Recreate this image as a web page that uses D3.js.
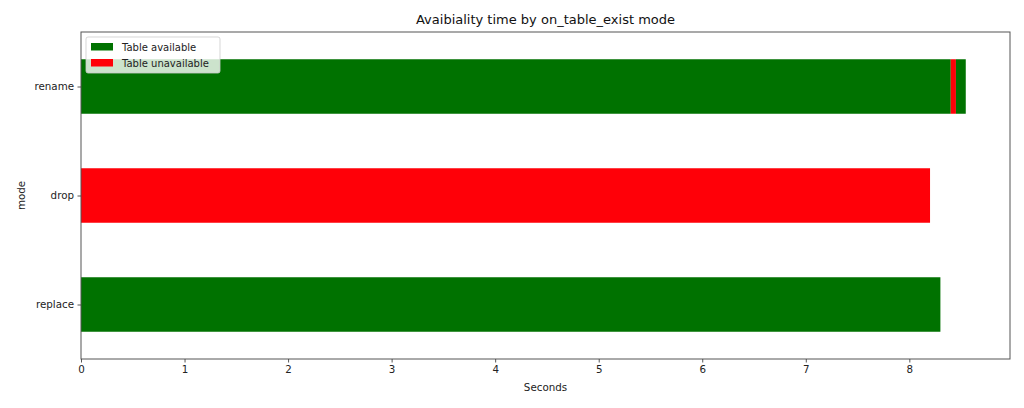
<!DOCTYPE html>
<html>
<head>
<meta charset="utf-8">
<script src="https://cdn.jsdelivr.net/npm/d3@7"></script>
<style>
  html, body { margin: 0; padding: 0; background: #fff; overflow: hidden; }
  svg { display: block; font-family: "DejaVu Sans", sans-serif; }
</style>
</head>
<body>
<svg width="1024" height="408"></svg>
<script>
const svg = d3.select("svg");
const width = 1024;
const height = 408;

// data (seconds)
const modes = ["replace", "drop", "rename"];
const availableBefore = [8.30, 0, 8.40];
const unavailable = [0, 8.20, 0.05];
const availableAfter = [0, 0, 0.095];
const xTicks = [0, 1, 2, 3, 4, 5, 6, 7, 8];

const title = "Avaibiality time by on_table_exist mode";
const colorAvailable = "#007200";
const colorUnavailable = "#ff0008";

const margin = { top: 32, right: 14, bottom: 49, left: 81 };
const innerWidth = width - margin.left - margin.right;
const innerHeight = height - margin.top - margin.bottom;

// stacked segments per mode
const segments = [];
modes.forEach((m, i) => {
  let start = 0;
  [[availableBefore[i], colorAvailable], [unavailable[i], colorUnavailable], [availableAfter[i], colorAvailable]]
    .forEach(([v, c]) => {
      if (v > 0) segments.push({ mode: m, x0: start, x1: start + v, color: c });
      start += v;
    });
});

const maxTotal = d3.max(modes, (m, i) => availableBefore[i] + unavailable[i] + availableAfter[i]);

const xScale = d3.scaleLinear()
  .domain([0, maxTotal * 1.05])
  .range([0, innerWidth]);

// categories at 0..n-1, limits -0.5..n-0.5, first category at the bottom
const yPos = d3.scaleLinear()
  .domain([-0.5, modes.length - 0.5])
  .range([innerHeight, 0]);
const barHeight = yPos(0) - yPos(0.5);

const g = svg.append("g")
  .attr("transform", `translate(${margin.left},${margin.top})`);

// bars
g.append("g").selectAll("rect").data(segments)
  .enter().append("rect")
    .attr("x", d => xScale(d.x0))
    .attr("width", d => xScale(d.x1) - xScale(d.x0))
    .attr("y", d => yPos(modes.indexOf(d.mode)) - barHeight / 2)
    .attr("height", barHeight)
    .attr("fill", d => d.color);

// frame
g.append("rect")
  .attr("width", innerWidth)
  .attr("height", innerHeight)
  .attr("fill", "none")
  .attr("stroke", "#555")
  .attr("stroke-width", 1);

// x axis
const xAxisG = g.append("g")
  .attr("transform", `translate(0,${innerHeight})`)
  .call(d3.axisBottom(xScale).tickValues(xTicks).tickSize(3.5).tickPadding(3.5).tickFormat(d3.format("d")));

// y axis
const yAxisG = g.append("g")
  .call(d3.axisLeft(yPos).tickValues(d3.range(modes.length)).tickSize(3.5).tickPadding(3.5).tickFormat(i => modes[i]));

[xAxisG, yAxisG].forEach(a => {
  a.select(".domain").remove();
  a.selectAll(".tick line").attr("stroke", "#444").attr("stroke-width", 0.9);
  a.selectAll(".tick text").attr("font-size", 10.3).attr("fill", "#222")
    .attr("font-family", "DejaVu Sans");
});

// title and axis labels
svg.append("text")
  .text(title)
  .attr("x", margin.left + innerWidth / 2)
  .attr("y", 24)
  .attr("text-anchor", "middle")
  .attr("font-size", 13)
  .attr("fill", "#111");

svg.append("text")
  .text("Seconds")
  .attr("x", margin.left + innerWidth / 2)
  .attr("y", 391)
  .attr("text-anchor", "middle")
  .attr("font-size", 10.3)
  .attr("fill", "#222");

svg.append("text")
  .text("mode")
  .attr("transform", `translate(25,${margin.top + innerHeight / 2}) rotate(-90)`)
  .attr("text-anchor", "middle")
  .attr("font-size", 10.3)
  .attr("fill", "#222");

// legend
const legend = g.append("g")
  .attr("transform", "translate(5,5)");

legend.append("rect")
  .attr("width", 134)
  .attr("height", 36)
  .attr("rx", 2)
  .attr("fill", "#fff")
  .attr("fill-opacity", 0.8)
  .attr("stroke", "#ccc")
  .attr("stroke-opacity", 0.8);

const legendItems = [
  { label: "Table available", color: colorAvailable },
  { label: "Table unavailable", color: colorUnavailable }
];

const item = legend.selectAll(".item").data(legendItems)
  .enter().append("g")
    .attr("transform", (d, i) => `translate(5,${6 + i * 16})`);

item.append("rect")
  .attr("width", 22)
  .attr("height", 7.5)
  .attr("fill", d => d.color);

item.append("text")
  .text(d => d.label)
  .attr("x", 31)
  .attr("y", 7.5)
  .attr("font-size", 10)
  .attr("fill", "#222");
</script>
</body>
</html>
